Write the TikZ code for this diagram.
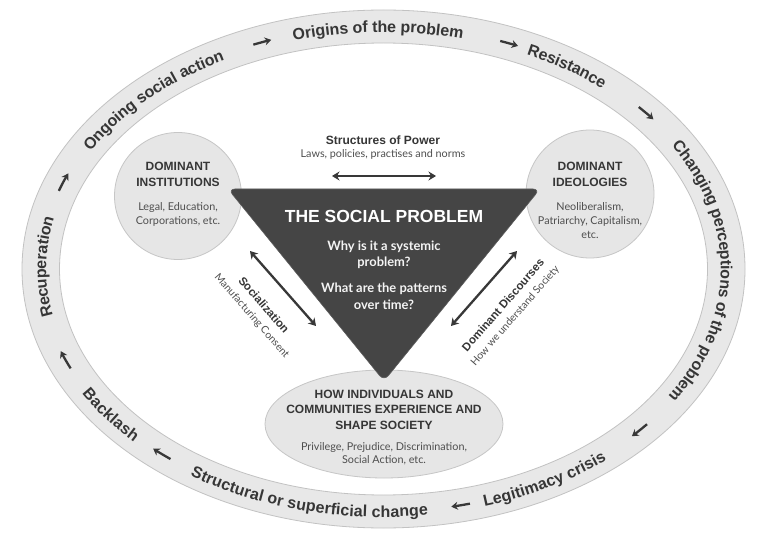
\documentclass[tikz,border=0pt]{standalone}
\usepackage{fontspec}
\setmainfont{Lato}
\newfontfamily\headfont{Liberation Sans}
\usetikzlibrary{decorations.text,arrows.meta,shapes.geometric}
\definecolor{ringfill}{HTML}{E8E8E8}
\definecolor{ringedge}{HTML}{C2C2C2}
\definecolor{nodefill}{HTML}{E6E6E6}
\definecolor{nodeedge}{HTML}{C6C6C6}
\definecolor{darktext}{HTML}{363636}
\definecolor{subtext}{HTML}{4E4E4E}
\definecolor{trifill}{HTML}{454545}
\definecolor{triedge}{HTML}{5C5C5C}
\definecolor{arrowcol}{HTML}{383838}
\definecolor{tritext}{HTML}{F4F4F4}
\newcommand\ringfmt{\headfont\bfseries\fontsize{16pt}{16pt}\selectfont}
\newcommand\ringlabel[3]{\path[decorate,decoration={text along path,text align=center,raise=-5.7pt,text color=darktext,text={|\ringfmt|#3}}] (C) ++(#1:343pt and 242.5pt) arc[start angle=#1,end angle=#2,x radius=343pt,y radius=242.5pt];}
\newcommand\ringarrow[2]{\draw[ringarr] (C) ++({#1+#2}:343pt and 242.5pt) arc[start angle={#1+#2},end angle={#1-#2},x radius=343pt,y radius=242.5pt];}
\begin{document}
\begin{tikzpicture}[x=1pt,y=1pt,
  lbl/.style={anchor=base,inner sep=0pt},
  headtxt/.style={lbl,text=darktext,font=\headfont\bfseries\fontsize{12pt}{14pt}\selectfont},
  subtxt/.style={lbl,text=subtext,font=\fontsize{10.8pt}{13pt}\selectfont},
  tritxt/.style={lbl,text=tritext,font=\bfseries\fontsize{12.9pt}{15pt}\selectfont},
  blob/.style={fill=nodefill,draw=nodeedge,line width=0.8pt,inner sep=0pt},
  dblarr/.style={draw=arrowcol,line width=2.3pt,{Stealth[length=7.5pt,width=9pt]}-{Stealth[length=7.5pt,width=9pt]}},
  ringarr/.style={draw=arrowcol,line width=2.3pt,-{Stealth[length=6.5pt,width=8pt]}},
  rottitle/.style={inner sep=0pt,text=darktext,font=\headfont\bfseries\fontsize{11.5pt}{13pt}\selectfont},
  rotsub/.style={inner sep=0pt,text=subtext,font=\fontsize{10.4pt}{12pt}\selectfont}
]
\useasboundingbox (0,0) rectangle (766,-556);
\fill[white] (0,0) rectangle (766,-556);
\coordinate (C) at (383.5,-269);
% ring
\path[fill=ringfill,draw=ringedge,line width=0.8pt,even odd rule]
  (C) ellipse[x radius=361.5pt,y radius=259pt]
  (C) ellipse[x radius=324pt,y radius=226pt];
% ring labels (clockwise)
\ringlabel{121}{61}{Origins of the problem}
\ringlabel{76.6}{36.6}{Resistance}
\ringlabel{49.5}{-50.5}{Changing perceptions of the problem}
\ringlabel{160}{110}{Ongoing social action}
\ringlabel{199.5}{159.5}{Recuperation}
% ring labels (counter-clockwise)
\ringlabel{201.5}{231.5}{Backlash}
\ringlabel{221}{291}{Structural or superficial change}
\ringlabel{279}{319}{Legitimacy crisis}
% ring arrows
\ringarrow{110.7}{1.6}
\ringarrow{68.5}{1.6}
\ringarrow{40}{1.9}
\ringarrow{318.3}{1.9}
\ringarrow{283}{1.6}
\ringarrow{229.7}{1.9}
\ringarrow{202}{2.2}
\ringarrow{159}{2.2}
% blobs
\node[blob,circle,minimum size=127pt] (inst) at (178,-196) {};
\node[blob,circle,minimum size=128pt] (ideo) at (590,-194) {};
\node[blob,ellipse,minimum width=238pt,minimum height=108pt] (exp) at (384,-424) {};
% triangle
\coordinate (tl) at (228,-189);
\coordinate (tr) at (540,-189);
\coordinate (ap) at (384,-381);
\filldraw[fill=trifill,draw=triedge,line width=0.6pt,rounded corners=7pt] (tl) -- (tr) -- (ap) -- cycle;
% texts
\node[headtxt] (inst1) at (178,-170.8) {DOMINANT};
\node[headtxt] (inst2) at (178,-186.3) {INSTITUTIONS};
\node[subtxt] (inst3) at (178,-210.5) {Legal, Education,};
\node[subtxt] (inst4) at (178,-224.3) {Corporations, etc.};
\node[headtxt] (ideo1) at (590,-171) {DOMINANT};
\node[headtxt] (ideo2) at (590,-187) {IDEOLOGIES};
\node[subtxt] (ideo3) at (590,-210.5) {Neoliberalism,};
\node[subtxt] (ideo4) at (590,-224.5) {Patriarchy, Capitalism,};
\node[subtxt] (ideo5) at (590,-238.5) {etc.};
\node[headtxt] (exp1) at (384,-398.3) {HOW INDIVIDUALS AND};
\node[headtxt] (exp2) at (384,-413.6) {COMMUNITIES EXPERIENCE AND};
\node[headtxt] (exp3) at (384,-429.6) {SHAPE SOCIETY};
\node[subtxt] (exp4) at (384,-450.3) {Privilege, Prejudice, Discrimination,};
\node[subtxt] (exp5) at (384,-463.3) {Social Action, etc.};
\node[lbl,text=white,font=\headfont\bfseries\fontsize{17.5pt}{20pt}\selectfont] (title) at (384,-223) {THE SOCIAL PROBLEM};
\node[tritxt] (q1) at (384,-250.5) {Why is it a systemic};
\node[tritxt] (q2) at (384,-266) {problem?};
\node[tritxt] (q3) at (384,-292.5) {What are the patterns};
\node[tritxt] (q4) at (384,-309) {over time?};
\node[headtxt] (sp1) at (383,-144.3) {Structures of Power};
\node[subtxt] (sp2) at (383,-158) {Laws, policies, practises and norms};
% arrows
\coordinate (spL) at (332,-176);
\coordinate (spR) at (436,-176);
\draw[dblarr] (spL) -- (spR);
\coordinate (socA) at (250,-251);
\coordinate (socB) at (316,-326);
\draw[dblarr] (socA) -- (socB);
\coordinate (disA) at (451,-326);
\coordinate (disB) at (517,-251);
\draw[dblarr] (disA) -- (disB);
\node[rottitle,rotate=-49] (soc1) at (264.1,-304.9) {Socialization};
\node[rotsub,rotate=-49] (soc2) at (251.7,-316) {Manufacturing Consent};
\node[rottitle,rotate=49] (dis1) at (502.9,-304.9) {Dominant Discourses};
\node[rotsub,rotate=49] (dis2) at (515.3,-316) {How we understand Society};
\end{tikzpicture}
\end{document}
